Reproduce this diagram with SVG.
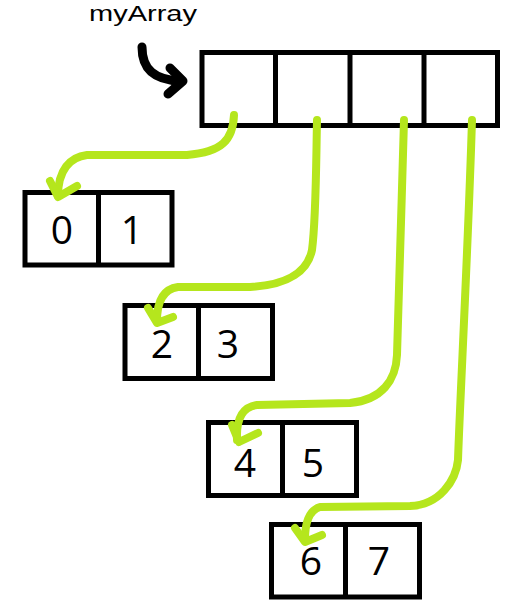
<svg xmlns="http://www.w3.org/2000/svg" width="506" height="605" viewBox="0 0 506 605">
<style>
.box{fill:#fff;stroke:#000;stroke-width:5}
.div{stroke:#000;stroke-width:5}
.num{font-family:"Open Sans","Liberation Sans",sans-serif;font-size:39px;fill:#000;text-anchor:middle}
.g{fill:none;stroke:#b5e61d;stroke-width:8;stroke-linecap:round;stroke-linejoin:round}
.k{fill:none;stroke:#000;stroke-width:9;stroke-linecap:round;stroke-linejoin:round}
</style>
<rect width="506" height="605" fill="#fff"/>
<g id="label">
<text x="89" y="21" font-family="'Liberation Sans',Arial,sans-serif" font-size="22" textLength="108" lengthAdjust="spacingAndGlyphs">myArray</text>
<path class="k" d="M142,47 C142,70 155,80 180,81"/>
<path class="k" d="M170,68 L183,81 L168,94"/>
</g>
<g id="myArray">
<rect class="box" x="202" y="52.5" width="295.5" height="73"/>
<line class="div" x1="275.5" y1="52.5" x2="275.5" y2="125.5"/>
<line class="div" x1="350" y1="52.5" x2="350" y2="125.5"/>
<line class="div" x1="424" y1="52.5" x2="424" y2="125.5"/>
</g>
<g id="row0">
<rect class="box" x="25" y="192.5" width="147" height="72.5"/>
<line class="div" x1="98.5" y1="192.5" x2="98.5" y2="265"/>
<text class="num" x="62" y="244">0</text>
<text class="num" x="132" y="244">1</text>
</g>
<g id="row1">
<rect class="box" x="125" y="305.5" width="147.5" height="73"/>
<line class="div" x1="198.5" y1="305.5" x2="198.5" y2="378.5"/>
<text class="num" x="162" y="358">2</text>
<text class="num" x="228" y="358">3</text>
</g>
<g id="row2">
<rect class="box" x="208.5" y="422.5" width="148" height="73"/>
<line class="div" x1="282.5" y1="422.5" x2="282.5" y2="495.5"/>
<text class="num" x="245" y="477">4</text>
<text class="num" x="313" y="477">5</text>
</g>
<g id="row3">
<rect class="box" x="271.5" y="524.5" width="148" height="72.5"/>
<line class="div" x1="345.5" y1="524.5" x2="345.5" y2="597"/>
<text class="num" x="311" y="575">6</text>
<text class="num" x="379" y="575">7</text>
</g>
<g id="connectors">
<path class="g" d="M234,115 C233,140 222,152 187,155 L87,155 C70,157 58,170 58,196"/>
<path class="g" d="M50,181 L58,197 L77,186"/>
<path class="g" d="M317,120 C316,170 316,220 312,250 C308,270 290,285 250,287 L178,287 C164,289 157,300 157,321"/>
<path class="g" d="M148,308 L157,323 L173,317"/>
<path class="g" d="M404,120 C402,200 398,300 397,355 C396,380 382,400 350,403 L257,405 C244,407 236,416 237,440"/>
<path class="g" d="M232,425 L239,442 L258,433"/>
<path class="g" d="M472,120 C468,250 460,400 458,460 C456,480 440,505 410,506 L320,507 C310,510 305,520 305,540"/>
<path class="g" d="M295,528 L305,542 L322,535"/>
</g>
</svg>
